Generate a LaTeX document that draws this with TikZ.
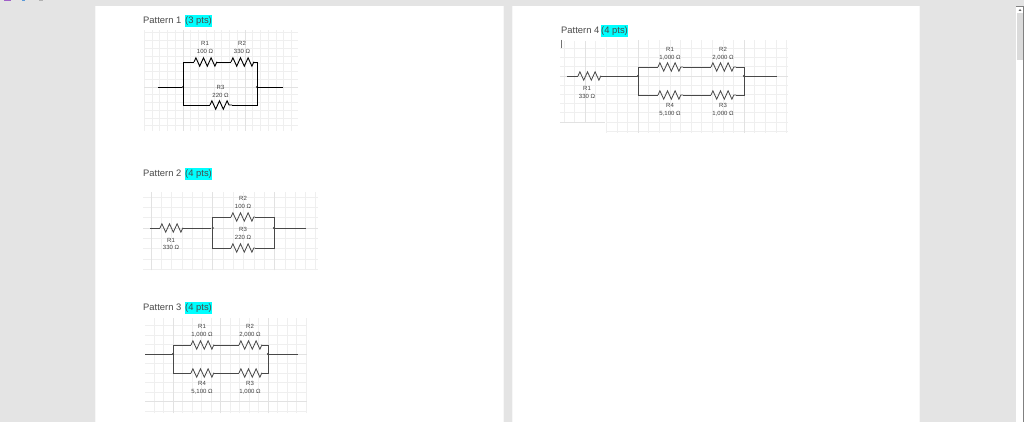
\documentclass[tikz,border=0pt]{standalone}
\usepackage{fontspec}
\setmainfont{Liberation Sans}
\usetikzlibrary{decorations.pathmorphing}
\definecolor{pagebg}{HTML}{E4E4E4}
\definecolor{gridc}{HTML}{EFEFEF}
\definecolor{gridm}{HTML}{E2E2E2}
\definecolor{inkc}{HTML}{4A4A4A}
\definecolor{hlc}{HTML}{00FFFF}
\definecolor{wirec}{HTML}{484848}
\definecolor{topa}{HTML}{A060C8}
\definecolor{topb}{HTML}{5C9AD8}
% light grid: left, top, right, bottom, origin x, origin y, step x, step y, major every
\newcommand{\gridpatch}[9]{%
	\begin{scope}[shift={(#5,#6)},y=1pt]
	\draw[gridc,line width=.6pt,xstep=#7,ystep=#8] (#1-#5,#6-#4) grid (#3-#5,#6-#2);
	\draw[gridm,line width=.6pt,xstep=#7*#9,ystep=#8*#9] (#1-#5,#6-#4) grid (#3-#5,#6-#2);
	\end{scope}}
\begin{document}
\begin{tikzpicture}[x=1pt,y=-1pt]
	\tikzstyle{every node}=[inner sep=0pt, text=inkc]
	\tikzstyle{wire}=[line width=.8pt, color=wirec]
	\tikzstyle{res}=[wire, decorate, decoration={zigzag, segment length=7.6pt, amplitude=4.2pt}]
	\tikzstyle{heavy}=[line width=.9pt, color=black]
	\tikzstyle{dot}=[circle, fill=black!80, minimum width=2.4pt]
	\tikzstyle{lab}=[font=\fontsize{6}{7.9}\selectfont, align=center, text=black!75]
	\tikzstyle{ttl}=[font=\fontsize{9.4}{11}\selectfont, anchor=base west]
	\tikzstyle{pts}=[ttl, fill=hlc, inner xsep=.5pt, inner ysep=1.5pt]
	\useasboundingbox (0,0) rectangle (1024,422);
	\fill[pagebg] (0,0) rectangle (1024,422);
	\fill[black!3] (95,6) rectangle (504,422);
	\fill[black!3] (512,6) rectangle (920,422);
	\fill[white] (96,6) rectangle (503,422);
	\fill[white] (513,6) rectangle (919,422);
	\fill[topa] (4,0) rectangle (11,1);
	\fill[topb] (22,0) rectangle (25,1);
	\fill[black!30] (39,0) rectangle (43,1);
	\fill[white] (1016,6) rectangle (1024,422);
	\fill[black!14] (1017,13) rectangle (1023,60);
	\draw[black!50,line width=1pt] (1016,6.5) -- (1023.5,6.5) -- (1023.5,422);
	\fill[black!60] (1018.5,11) -- (1020,9) -- (1021.5,11) -- cycle;
	\gridpatch{144}{30}{298}{131}{183}{87}{7.75}{7.75}{8}
	\gridpatch{143}{192}{318}{270}{212.7}{228}{10.3}{10.3}{6}
	\gridpatch{145}{318}{307}{413}{173}{354}{9.5}{9.5}{5}
	\gridpatch{560}{41}{605}{122}{638}{76}{10.6}{9.2}{5}
	\gridpatch{606}{40}{788}{133}{638}{76}{10.6}{9.2}{10}
	\draw[black!55,line width=.6pt] (561,40) -- (561,48);

	\node (t1) [ttl] at (143,23.5) {Pattern 1};
	\node (h1) [pts] at (184.5,23.5) {(3 pts)};
	\node (t2) [ttl] at (143,176.5) {Pattern 2};
	\node (h2) [pts] at (184.5,176.5) {(4 pts)};
	\node (t3) [ttl] at (143,310.5) {Pattern 3};
	\node (h3) [pts] at (184.5,310.5) {(4 pts)};
	\node (t4) [ttl] at (561,33.5) {Pattern 4};
	\node (h4) [pts] at (600.5,33.5) {(4 pts)};

	\coordinate (a1) at (158,87);
	\node (j1) [dot] at (183,87) {};
	\node (k1) [dot] at (257,87) {};
	\coordinate (b1) at (283,87);
	\coordinate (c1) at (183,62);
	\coordinate (d1) at (257,62);
	\coordinate (e1) at (183,105);
	\coordinate (f1) at (257,105);
	\coordinate (r1a) at (194,62);
	\coordinate (r1b) at (217,62);
	\coordinate (r2a) at (231,62);
	\coordinate (r2b) at (254,62);
	\coordinate (r3a) at (210,105);
	\coordinate (r3b) at (232,105);
	\draw[wire,heavy] (a1) -- (j1);
	\draw[wire,heavy] (k1) -- (b1);
	\draw[wire,heavy] (e1) -- (c1) -- (r1a);
	\draw[wire,heavy] (r1b) -- (r2a);
	\draw[wire,heavy] (r2b) -- (d1) -- (f1) -- (r3b);
	\draw[wire,heavy] (r3a) -- (e1);
	\draw[res,heavy] (r1a) -- (r1b);
	\draw[res,heavy] (r2a) -- (r2b);
	\draw[res,heavy] (r3a) -- (r3b);
	\node (l1) [lab] at (205,47.5) {R1\\100 Ω};
	\node (l2) [lab] at (242,47.5) {R2\\330 Ω};
	\node (l3) [lab] at (220.5,91) {R3\\220 Ω};

	\coordinate (a2) at (150,228);
	\node (j2) [dot] at (212.7,228) {};
	\node (k2) [dot] at (274,228) {};
	\coordinate (b2) at (306,228);
	\coordinate (c2) at (212.7,217);
	\coordinate (d2) at (274,217);
	\coordinate (e2) at (212.7,248);
	\coordinate (f2) at (274,248);
	\coordinate (s1a) at (160,228);
	\coordinate (s1b) at (183,228);
	\coordinate (s2a) at (231,217);
	\coordinate (s2b) at (255,217);
	\coordinate (s3a) at (231,248);
	\coordinate (s3b) at (255,248);
	\draw[wire] (a2) -- (s1a);
	\draw[res] (s1a) -- (s1b);
	\draw[wire] (s1b) -- (j2);
	\draw[wire] (k2) -- (b2);
	\draw[wire] (s3a) -- (e2) -- (c2) -- (s2a);
	\draw[wire] (s2b) -- (d2) -- (f2) -- (s3b);
	\draw[res] (s2a) -- (s2b);
	\draw[res] (s3a) -- (s3b);
	\node (m1) [lab] at (171,244) {R1\\330 Ω};
	\node (m2) [lab] at (243,202.5) {R2\\100 Ω};
	\node (m3) [lab] at (243,233) {R3\\220 Ω};

	\coordinate (a3) at (145,354);
	\node (j3) [dot] at (173,354) {};
	\node (k3) [dot] at (268,354) {};
	\coordinate (b3) at (298,354);
	\coordinate (c3) at (173,345);
	\coordinate (d3) at (268,345);
	\coordinate (e3) at (173,373);
	\coordinate (f3) at (268,373);
	\coordinate (u1a) at (191,345);
	\coordinate (u1b) at (214,345);
	\coordinate (u2a) at (239,345);
	\coordinate (u2b) at (262,345);
	\coordinate (u4a) at (191,373);
	\coordinate (u4b) at (214,373);
	\coordinate (u3a) at (239,373);
	\coordinate (u3b) at (262,373);
	\draw[wire] (a3) -- (j3);
	\draw[wire] (k3) -- (b3);
	\draw[wire] (u4a) -- (e3) -- (c3) -- (u1a);
	\draw[wire] (u1b) -- (u2a);
	\draw[wire] (u2b) -- (d3) -- (f3) -- (u3b);
	\draw[wire] (u3a) -- (u4b);
	\draw[res] (u1a) -- (u1b);
	\draw[res] (u2a) -- (u2b);
	\draw[res] (u3a) -- (u3b);
	\draw[res] (u4a) -- (u4b);
	\node (n1) [lab] at (202,330.5) {R1\\1,000 Ω};
	\node (n2) [lab] at (250,330.5) {R2\\2,000 Ω};
	\node (n3) [lab] at (250,388) {R3\\1,000 Ω};
	\node (n4) [lab] at (202,388) {R4\\5,100 Ω};

	\coordinate (a4) at (567,76);
	\node (j4) [dot] at (638,76) {};
	\node (k4) [dot] at (744,76) {};
	\coordinate (b4) at (777,76);
	\coordinate (c4) at (638,67);
	\coordinate (d4) at (744,67);
	\coordinate (e4) at (638,95);
	\coordinate (f4) at (744,95);
	\coordinate (v0a) at (578,76);
	\coordinate (v0b) at (601,76);
	\coordinate (v1a) at (658,67);
	\coordinate (v1b) at (683,67);
	\coordinate (v2a) at (711,67);
	\coordinate (v2b) at (736,67);
	\coordinate (v4a) at (658,95);
	\coordinate (v4b) at (683,95);
	\coordinate (v3a) at (711,95);
	\coordinate (v3b) at (736,95);
	\draw[wire] (a4) -- (v0a);
	\draw[res] (v0a) -- (v0b);
	\draw[wire] (v0b) -- (j4);
	\draw[wire] (k4) -- (b4);
	\draw[wire] (v4a) -- (e4) -- (c4) -- (v1a);
	\draw[wire] (v1b) -- (v2a);
	\draw[wire] (v2b) -- (d4) -- (f4) -- (v3b);
	\draw[wire] (v3a) -- (v4b);
	\draw[res] (v1a) -- (v1b);
	\draw[res] (v2a) -- (v2b);
	\draw[res] (v3a) -- (v3b);
	\draw[res] (v4a) -- (v4b);
	\node (o0) [lab] at (587,92.5) {R1\\330 Ω};
	\node (o1) [lab] at (670,53.5) {R1\\1,000 Ω};
	\node (o2) [lab] at (723,53.5) {R2\\2,000 Ω};
	\node (o3) [lab] at (723,109.5) {R3\\1,000 Ω};
	\node (o4) [lab] at (670,109.5) {R4\\5,100 Ω};
\end{tikzpicture}
\end{document}
